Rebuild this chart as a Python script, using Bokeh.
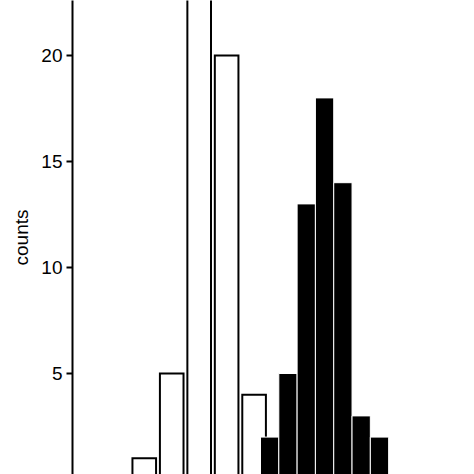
from bokeh.plotting import figure
from bokeh.models import FixedTicker, Range1d
from bokeh.embed import file_html
from bokeh.resources import INLINE

# Histogram data (bin centers and counts)
white_centers = [3.65, 5.15, 6.65, 8.15, 9.65]
white_counts = [1, 5, 27, 20, 4]
white_bin_width = 1.5

black_centers = [10.5, 11.5, 12.5, 13.5, 14.5, 15.5, 16.5]
black_counts = [2, 5, 13, 18, 14, 3, 2]
black_bin_width = 1.0

y_ticks = [0, 5, 10, 15, 20]

FONT = "Liberation Sans"

p = figure(width=474, height=474, output_backend="svg", toolbar_location=None,
           x_range=Range1d(-0.27, 21.69), y_range=Range1d(0.236, 22.594),
           x_axis_location=None, min_border_left=72, min_border_right=0,
           min_border_top=0, min_border_bottom=0)
p.outline_line_color = None
p.xgrid.visible = False
p.ygrid.visible = False
p.background_fill_color = "white"
p.border_fill_color = "white"

# white (open) bars: fill, then outline as open paths (left, top, right sides)
bw = white_bin_width * 0.86
p.vbar(x=white_centers, top=white_counts, bottom=0, width=bw,
       fill_color="white", line_color=None)
xs = [[c - bw / 2, c - bw / 2, c + bw / 2, c + bw / 2] for c in white_centers]
ys = [[0, t, t, 0] for t in white_counts]
p.multi_line(xs=xs, ys=ys, line_color="black", line_width=2, line_join="miter")

p.vbar(x=black_centers, top=black_counts, bottom=0, width=black_bin_width,
       fill_color="black", line_color="white", line_width=1)

ax = p.yaxis[0]
ax.ticker = FixedTicker(ticks=y_ticks)
ax.minor_tick_line_color = None
ax.major_tick_in = 0
ax.major_tick_out = 6
ax.major_tick_line_width = 2
ax.axis_line_width = 2
ax.major_label_standoff = 4
ax.major_label_text_font = FONT
ax.major_label_text_font_size = "19px"
ax.major_label_text_color = "black"
ax.axis_label = "counts"
ax.axis_label_text_font = FONT
ax.axis_label_text_font_size = "19px"
ax.axis_label_text_font_style = "normal"
ax.axis_label_text_color = "black"
ax.axis_label_standoff = 6

open("out.html", "w").write(file_html(p, INLINE))
